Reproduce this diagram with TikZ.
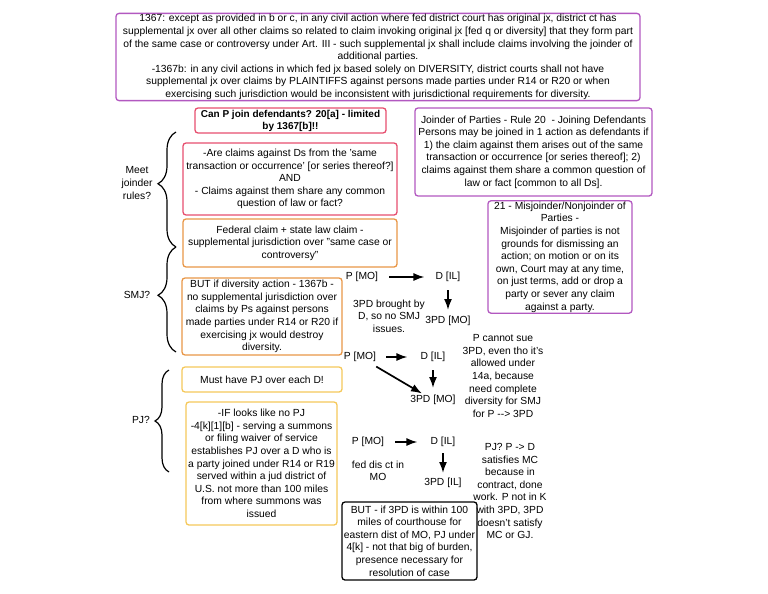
\documentclass[tikz,border=0pt]{standalone}
\usepackage{fontspec}
\setmainfont{Liberation Sans}
\usepackage{tikz}
\usetikzlibrary{arrows.meta,positioning,decorations.pathreplacing}
\definecolor{purp}{RGB}{178,88,192}
\definecolor{redc}{RGB}{230,78,110}
\definecolor{orng}{RGB}{232,150,70}
\definecolor{yell}{RGB}{245,200,90}

\begin{document}
\begin{tikzpicture}[x=1pt,y=-1pt,>={Latex[length=11pt,width=8pt]},font=\fontsize{10.3}{12.6}\selectfont,
  box/.style={draw,rounded corners=3pt,line width=1.3pt,align=center,inner sep=1pt},
  arr/.style={->,line width=1.7pt},
  brc/.style={decorate,line width=1.2pt},
  lbl/.style={align=center,inner sep=1pt}]
\useasboundingbox (0,0) rectangle (768,594);
% statute text and rules
\node[box,draw=purp,minimum width=524pt,minimum height=84pt] (stat) at (378,57) {1367: except as provided in b or c, in any civil action where fed district court has original jx, district ct has\\supplemental jx over all other claims so related to claim invoking original jx [fed q or diversity] that they form part\\of the same case or controversy under Art. III - such supplemental jx shall include claims involving the joinder of\\additional parties.\\-1367b: in any civil actions in which fed jx based solely on DIVERSITY, district courts shall not have\\supplemental jx over claims by PLAINTIFFS against persons made parties under R14 or R20 or when\\exercising such jurisdiction would be inconsistent with jurisdictional requirements for diversity.};
\node[box,draw=redc,font=\fontsize{10}{12}\selectfont\bfseries,minimum width=191pt,minimum height=25pt] (canp) at (290.5,120.5) {Can P join defendants? 20[a] - limited\\by 1367[b]!!};
\node[box,draw=purp,minimum width=237pt,minimum height=88pt] (rule20) at (533.5,152) {Joinder of Parties - Rule 20\ \ - Joining Defendants\\Persons may be joined in 1 action as defendants if\\1) the claim against them arises out of the same\\transaction or occurrence [or series thereof]; 2)\\claims against them share a common question of\\law or fact [common to all Ds].};
\node[box,draw=purp,minimum width=144pt,minimum height=106pt] (rule21) at (560,257) {21 - Misjoinder/Nonjoinder of\\Parties -\\Misjoinder of parties is not\\grounds for dismissing an\\action; on motion or on its\\own, Court may at any time,\\on just terms, add or drop a\\party or sever any claim\\against a party.};
% left column
\node[box,draw=redc,minimum width=214pt,minimum height=72pt] (claims) at (290,179) {-Are claims against Ds from the 'same\\transaction or occurrence' [or series thereof?]\\AND\\- Claims against them share any common\\question of law or fact?};
\node[box,draw=orng,minimum width=214pt,minimum height=48pt] (fedc) at (290,243) {Federal claim + state law claim -\\supplemental jurisdiction over "same case or\\controversy"};
\node[box,draw=orng,minimum width=160pt,minimum height=77pt] (butdiv) at (262,316.5) {BUT if diversity action - 1367b -\\no supplemental jurisdiction over\\claims by Ps against persons\\made parties under R14 or R20 if\\exercising jx would destroy\\diversity.};
\node[box,draw=yell,minimum width=160pt,minimum height=25pt] (eachd) at (262,379.5) {Must have PJ over each D!};
\node[box,draw=yell,minimum width=151pt,minimum height=123pt] (nopj) at (261.5,463.5) {-IF looks like no PJ\\-4[k][1][b] - serving a summons\\or filing waiver of service\\establishes PJ over a D who is\\a party joined under R14 or R19\\served within a jud district of\\U.S. not more than 100 miles\\from where summons was\\issued};
\node[box,draw=black,minimum width=135pt,minimum height=78pt] (within) at (409.5,541) {BUT - if 3PD is within 100\\miles of courthouse for\\eastern dist of MO, PJ under\\4[k] - not that big of burden,\\presence necessary for\\resolution of case};
% braces and their labels
\draw[brc,decoration={brace,amplitude=18pt,aspect=0.55}] (176,247) -- (176,132);
\draw[brc,decoration={brace,amplitude=18pt,aspect=0.54}] (176,352) -- (176,247);
\draw[brc,decoration={brace,amplitude=14pt,aspect=0.5}] (169,472) -- (169,370);
\node[lbl] (meet) at (137,183) {Meet\\joinder\\rules?};
\node[lbl] (smj) at (137,295) {SMJ?};
\node[lbl] (pjq) at (141,420) {PJ?};
% party examples
\node[lbl] (p1) at (362,277) {P [MO]};
\node[lbl] (d1) at (448,277) {D [IL]};
\node[lbl] (t1) at (448,321) {3PD [MO]};
\node[lbl] (n1) at (389,316) {3PD brought by\\D, so no SMJ\\issues.};
\draw[arr,shorten <=10pt,shorten >=10pt] (p1) -- (d1);
\draw[arr,shorten <=7pt,shorten >=5pt] (d1) -- (t1);
\node[lbl] (p2) at (360,357) {P [MO]};
\node[lbl] (d2) at (433,357) {D [IL]};
\node[lbl] (t2) at (433,400) {3PD [MO]};
\node[lbl] (n2) at (503,376) {P cannot sue\\3PD, even tho it's\\allowed under\\14a, because\\need complete\\diversity for SMJ\\for P -{}-> 3PD};
\draw[arr,shorten <=9pt,shorten >=12pt] (p2) -- (d2);
\draw[arr,shorten <=7pt,shorten >=6pt] (d2) -- (t2);
\draw[arr,shorten <=7pt,shorten >=1pt] (p2) -- (t2);
\node[lbl] (p3) at (368,442) {P [MO]};
\node[lbl] (d3) at (443,442) {D [IL]};
\node[lbl] (t3) at (443,483) {3PD [IL]};
\node[lbl] (n3) at (378,471) {fed dis ct in\\MO};
\node[lbl] (n4) at (510,491) {PJ? P -> D\\satisfies MC\\because in\\contract, done\\work. P not in K\\with 3PD, 3PD\\doesn't satisfy\\MC or GJ.};
\draw[arr,shorten <=10pt,shorten >=12pt] (p3) -- (d3);
\draw[arr,shorten <=5pt,shorten >=4pt] (d3) -- (t3);
\end{tikzpicture}
\end{document}
